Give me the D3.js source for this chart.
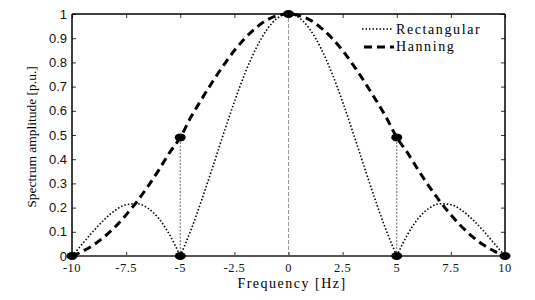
<!DOCTYPE html>
<html><head><meta charset="utf-8">
<script src="https://cdn.jsdelivr.net/npm/d3@7"></script>
<style>body{margin:0;background:#fff} .serif{font-family:"Liberation Serif","Times New Roman",Times,serif}</style>
</head><body>
<svg id="c" width="535" height="300"></svg>
<script>
const freq = [-10,-9.5,-9,-8.5,-8,-7.5,-7,-6.5,-6,-5.5,-5,-4.5,-4,-3.5,-3,-2.5,-2,-1.5,-1,-0.5,0,0.5,1,1.5,2,2.5,3,3.5,4,4.5,5,5.5,6,6.5,7,7.5,8,8.5,9,9.5,10];
const rectangular = [0,0.052,0.104,0.151,0.189,0.212,0.216,0.198,0.156,0.089,0,0.109,0.234,0.368,0.505,0.637,0.757,0.858,0.935,0.984,1,0.984,0.935,0.858,0.757,0.637,0.505,0.368,0.234,0.109,0,0.089,0.156,0.198,0.216,0.212,0.189,0.151,0.104,0.052,0];
const hanning = [0,0.020,0.046,0.080,0.121,0.170,0.225,0.287,0.354,0.426,0.49,0.575,0.650,0.721,0.788,0.849,0.901,0.943,0.975,0.994,1,0.994,0.975,0.943,0.901,0.849,0.788,0.721,0.650,0.575,0.49,0.426,0.354,0.287,0.225,0.170,0.121,0.080,0.046,0.020,0];
const markerX = [-10,-5,-5,0,5,5,10];
const markerY = [0,0,0.49,1,0.49,0,0];
const guideX = [-5,0,5];
const guideTop = [0.49,1,0.49];
const xTicks = [-10,-7.5,-5,-2.5,0,2.5,5,7.5,10];
const xTickLabels = ["-10","-7.5","-5","-2.5","0","2.5","5","7.5","10"];
const yTicks = [0,0.1,0.2,0.3,0.4,0.5,0.6,0.7,0.8,0.9,1];
const yTickLabels = ["0","0.1","0.2","0.3","0.4","0.5","0.6","0.7","0.8","0.9","1"];
const seriesNames = ["Rectangular","Hanning"];

const svg = d3.select("#c");
const L=72, R=505, T=14, B=256;
const x = d3.scaleLinear().domain([-10,10]).range([L,R]);
const y = d3.scaleLinear().domain([0,1]).range([B,T]);

// guide lines
guideX.forEach((g,i)=>{
  svg.append("line").attr("x1",x(g)).attr("x2",x(g)).attr("y1",y(0)).attr("y2",y(guideTop[i]))
    .attr("stroke", i===1?"#999":"#666").attr("stroke-width",1)
    .attr("stroke-dasharray", i===1?"4,2":"2,1.5");
});

// axes
svg.append("g").attr("transform",`translate(0,${B})`)
  .call(d3.axisTop(x).tickValues(xTicks).tickSize(4).tickFormat(""))
  .call(g=>g.select(".domain").remove()).selectAll("line").attr("stroke","#333");
svg.append("g").attr("transform",`translate(0,${T})`)
  .call(d3.axisBottom(x).tickValues(xTicks).tickSize(4).tickFormat(""))
  .call(g=>g.select(".domain").remove()).selectAll("line").attr("stroke","#333");
svg.append("g").attr("transform",`translate(${L},0)`)
  .call(d3.axisRight(y).tickValues(yTicks).tickSize(4).tickFormat(""))
  .call(g=>g.select(".domain").remove()).selectAll("line").attr("stroke","#333");
svg.append("g").attr("transform",`translate(${R},0)`)
  .call(d3.axisLeft(y).tickValues(yTicks).tickSize(4).tickFormat(""))
  .call(g=>g.select(".domain").remove()).selectAll("line").attr("stroke","#333");

// frame
svg.append("line").attr("x1",L).attr("x2",R).attr("y1",T).attr("y2",T).attr("stroke","#000").attr("stroke-width",1.5);
svg.append("line").attr("x1",L).attr("x2",L).attr("y1",T).attr("y2",B).attr("stroke","#000").attr("stroke-width",1.5);
svg.append("line").attr("x1",R).attr("x2",R).attr("y1",T).attr("y2",B).attr("stroke","#000").attr("stroke-width",1.5);
svg.append("line").attr("x1",L).attr("x2",R).attr("y1",B).attr("y2",B).attr("stroke","#555").attr("stroke-width",2);

// tick labels
svg.append("g").selectAll("text").data(xTicks).join("text").attr("class","serif")
  .attr("x",d=>x(d)).attr("y",272).attr("text-anchor","middle")
  .attr("font-size",12.5).attr("letter-spacing","0.5")
  .attr("fill","#111").text((d,i)=>xTickLabels[i]);
svg.append("g").selectAll("text").data(yTicks).join("text")
  .attr("x",67).attr("y",d=>y(d)+4.5).attr("text-anchor","end")
  .style("font-family","'Liberation Sans',Arial,sans-serif").attr("font-size",13)
  .attr("fill","#111").text((d,i)=>yTickLabels[i]);

// axis titles
svg.append("text").attr("class","serif").attr("x",292).attr("y",288).attr("text-anchor","middle")
  .attr("font-size",14).attr("letter-spacing","1.5")
  .text("Frequency [Hz]");
svg.append("text").attr("class","serif").attr("transform","translate(36,137) rotate(-90)").attr("text-anchor","middle")
  .attr("font-size",13.5)
  .text("Spectrum amplitude [p.u.]");

// series
const pts = (vals)=>freq.map((f,i)=>[f,vals[i]]);
const line = d3.line().x(d=>x(d[0])).y(d=>y(d[1])).curve(d3.curveMonotoneX);
const rp = pts(rectangular);
let segs=[], cur=[];
rp.forEach((p,i)=>{cur.push(p); if(p[1]===0 && cur.length>1){segs.push(cur); cur=[p];}});
segs.forEach(s=>svg.append("path").attr("d",line(s)).attr("fill","none")
  .attr("stroke","#000").attr("stroke-width",1.6).attr("stroke-dasharray","1.5,2"));
svg.append("path").attr("d",d3.line().x(d=>x(d[0])).y(d=>y(d[1])).curve(d3.curveCatmullRom)(pts(hanning)))
  .attr("fill","none").attr("stroke","#000").attr("stroke-width",3).attr("stroke-dasharray","8,5");

// markers
svg.append("g").selectAll("ellipse").data(markerX).join("ellipse")
  .attr("cx",d=>x(d)).attr("cy",(d,i)=>y(markerY[i])).attr("rx",5.5).attr("ry",4).attr("fill","#000");

// legend
svg.append("line").attr("x1",362).attr("x2",393).attr("y1",29).attr("y2",29)
  .attr("stroke","#000").attr("stroke-width",1.6).attr("stroke-dasharray","1.5,2");
svg.append("line").attr("x1",364).attr("x2",394).attr("y1",47).attr("y2",47)
  .attr("stroke","#000").attr("stroke-width",3).attr("stroke-dasharray","8,5");
svg.append("text").attr("class","serif").attr("x",396).attr("y",34).attr("font-size",14)
  .attr("letter-spacing","1.6").text(seriesNames[0]);
svg.append("text").attr("class","serif").attr("x",396).attr("y",51).attr("font-size",14)
  .attr("letter-spacing","1.6").text(seriesNames[1]);
</script>
</body></html>
